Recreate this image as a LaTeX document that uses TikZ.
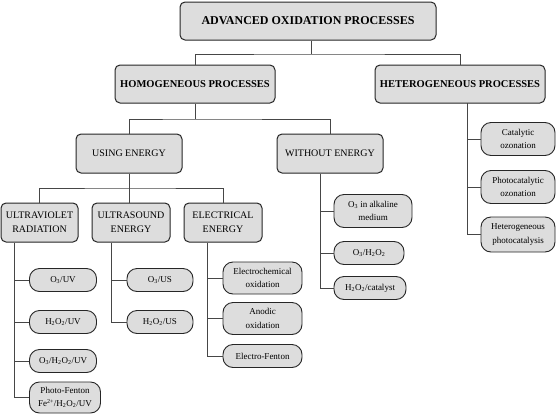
\documentclass[tikz,border=0pt]{standalone}
\usepackage{fontspec}
\setmainfont{Liberation Serif}
\usetikzlibrary{calc}
\definecolor{boxfill}{RGB}{221,221,221}
\definecolor{linecol}{RGB}{70,70,70}
\begin{document}
\begin{tikzpicture}[x=1pt,y=-1pt,
  bigbox/.style={draw=black!85, line width=1pt, fill=boxfill, rounded corners=5pt, inner sep=0pt, align=center},
  pill/.style={draw=black!85, line width=0.9pt, fill=boxfill, rounded corners=10pt, inner sep=0pt, align=center, font=\fontsize{9}{13.5}\selectfont},
  conn/.style={draw=linecol, line width=0.9pt}]
\useasboundingbox (0,0) rectangle (558,416);
\fill[white] (0,0) rectangle (558,416);
% level 1
\node[bigbox, minimum width=256pt, minimum height=38pt, font=\fontsize{12}{14}\selectfont\bfseries] (aop) at (308,21) {ADVANCED OXIDATION PROCESSES};
% level 2
\node[bigbox, minimum width=160pt, minimum height=38pt, font=\fontsize{10.5}{12}\selectfont\bfseries] (homo) at (195,84) {HOMOGENEOUS PROCESSES};
\node[bigbox, minimum width=170pt, minimum height=38pt, font=\fontsize{10.5}{12}\selectfont\bfseries] (hetero) at (460,84) {HETEROGENEOUS PROCESSES};
% level 3
\node[bigbox, minimum width=106pt, minimum height=39pt, font=\fontsize{10}{12}\selectfont] (using) at (129,153.5) {USING ENERGY};
\node[bigbox, minimum width=106pt, minimum height=39pt, font=\fontsize{10}{12}\selectfont] (without) at (330,153.5) {WITHOUT ENERGY};
% level 4
\node[bigbox, minimum width=77pt, minimum height=39pt, font=\fontsize{10}{14}\selectfont] (uv) at (39.5,222.5) {ULTRAVIOLET\\RADIATION};
\node[bigbox, minimum width=78pt, minimum height=39pt, font=\fontsize{10}{14}\selectfont] (us) at (131,222.5) {ULTRASOUND\\ENERGY};
\node[bigbox, minimum width=78pt, minimum height=39pt, font=\fontsize{10}{14}\selectfont] (elec) at (223,222.5) {ELECTRICAL\\ENERGY};
% leaves UV
\node[pill, minimum width=67pt, minimum height=23pt] (o3uv) at (63,280) {O\textsubscript{3}/UV};
\node[pill, minimum width=67pt, minimum height=23pt] (h2o2uv) at (63,322) {H\textsubscript{2}O\textsubscript{2}/UV};
\node[pill, minimum width=67pt, minimum height=23pt] (o3h2o2uv) at (63,361) {O\textsubscript{3}/H\textsubscript{2}O\textsubscript{2}/UV};
\node[pill, minimum width=71pt, minimum height=31pt] (pf) at (65,397.5) {Photo-Fenton\\Fe\textsuperscript{2+}/H\textsubscript{2}O\textsubscript{2}/UV};
% leaves US
\node[pill, minimum width=66pt, minimum height=23pt] (o3us) at (160,280) {O\textsubscript{3}/US};
\node[pill, minimum width=66pt, minimum height=23pt] (h2o2us) at (160,322) {H\textsubscript{2}O\textsubscript{2}/US};
% leaves electrical
\node[pill, minimum width=79pt, minimum height=32pt] (echem) at (262.5,278) {Electrochemical\\oxidation};
\node[pill, minimum width=79pt, minimum height=32pt] (anodic) at (262.5,318.5) {Anodic\\oxidation};
\node[pill, minimum width=79pt, minimum height=23pt] (efenton) at (262.5,356) {Electro-Fenton};
% leaves without
\node[pill, minimum width=78pt, minimum height=33pt] (alk) at (373,211) {O\textsubscript{3} in alkaline\\medium};
\node[pill, minimum width=70pt, minimum height=23pt] (o3h2o2) at (369,253) {O\textsubscript{3}/H\textsubscript{2}O\textsubscript{2}};
\node[pill, minimum width=72pt, minimum height=23pt] (h2o2cat) at (370,288) {H\textsubscript{2}O\textsubscript{2}/catalyst};
% leaves hetero
\node[pill, minimum width=74pt, minimum height=33pt] (cat) at (518,139) {Catalytic\\ozonation};
\node[pill, minimum width=74pt, minimum height=33pt] (photo) at (518,187) {Photocatalytic\\ozonation};
\node[pill, minimum width=74pt, minimum height=35pt] (hphoto) at (518,234.5) {Heterogeneous\\photocatalysis};
% connectors level 1 -> 2
\coordinate (j0) at (311,54);
\draw[conn] (aop.south -| j0) -- (j0);
\draw[conn] (homo.north) |- (j0) -| (hetero.north);
% level 2 -> 3
\coordinate (j1) at (195,119);
\draw[conn] (homo.south) -- (j1);
\draw[conn] (using.north) |- (j1) -| (without.north);
% level 3 -> 4
\coordinate (j2) at (129,188);
\draw[conn] (using.south) -- (j2);
\draw[conn] (uv.north) |- (j2) -| (elec.north);
\draw[conn] (j2) -- (us.north -| j2);
% UV leaves
\coordinate (uvs) at ($(uv.south west)+(14,0)$);
\draw[conn] (uvs) |- (pf.west);
\draw[conn] (uvs |- o3uv.west) -- (o3uv.west);
\draw[conn] (uvs |- h2o2uv.west) -- (h2o2uv.west);
\draw[conn] (uvs |- o3h2o2uv.west) -- (o3h2o2uv.west);
% US leaves
\coordinate (uss) at ($(us.south west)+(20,0)$);
\draw[conn] (uss) |- (h2o2us.west);
\draw[conn] (uss |- o3us.west) -- (o3us.west);
% electrical leaves
\coordinate (els) at ($(elec.south west)+(24,0)$);
\draw[conn] (els) |- (efenton.west);
\draw[conn] (els |- echem.west) -- (echem.west);
\draw[conn] (els |- anodic.west) -- (anodic.west);
% without leaves
\coordinate (wos) at ($(without.south west)+(44,0)$);
\draw[conn] (wos) |- (h2o2cat.west);
\draw[conn] (wos |- alk.west) -- (alk.west);
\draw[conn] (wos |- o3h2o2.west) -- (o3h2o2.west);
% hetero leaves
\coordinate (hes) at (467,103);
\draw[conn] (hes) |- (hphoto.west);
\draw[conn] (hes |- cat.west) -- (cat.west);
\draw[conn] (hes |- photo.west) -- (photo.west);
\end{tikzpicture}
\end{document}
